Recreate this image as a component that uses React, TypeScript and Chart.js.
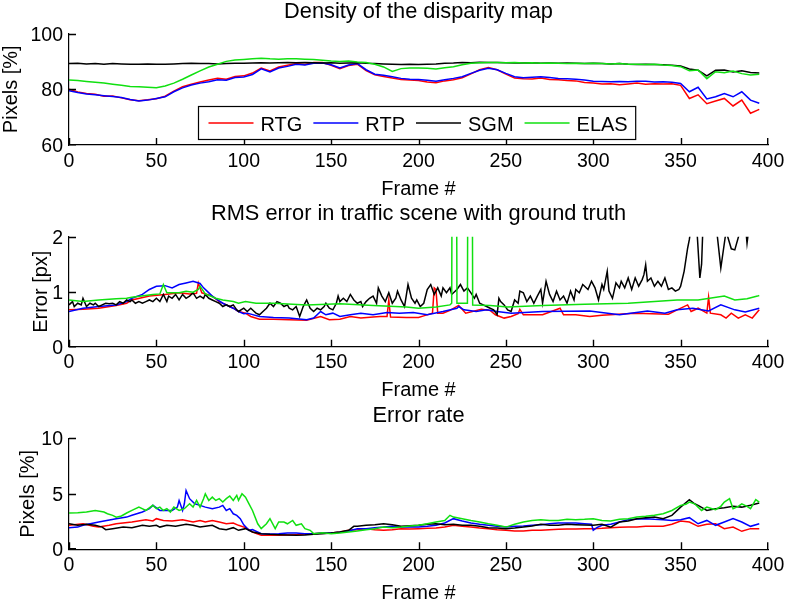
import React, { useEffect, useRef } from 'react';
import { Chart, registerables } from 'chart.js';
Chart.register(...registerables);

const FONT = "'Liberation Sans', Arial, Helvetica, sans-serif";
const SERIES_NAMES = ['RTG', 'RTP', 'SGM', 'ELAS'];
const SERIES_COLORS = ['#ff0000', '#0000ff', '#000000', '#10e010'];

// ---------- Panel 1: Density of the disparity map ----------
const densFrames = [0,5,10,15,20,25,30,35,40,45,50,55,60,65,70,75,80,85,90,95,100,105,110,115,120,125,130,135,140,145,150,155,160,165,170,175,180,185,190,195,200,205,210,215,220,225,230,235,240,245,250,255,260,265,270,275,280,285,290,295,300,305,310,315,320,325,330,335,340,345,350,355,360,365,370,375,380,385,390,395];
const densRTG = [80.0,79.0,78.5,78.2,77.5,77.6,76.9,76.2,75.9,76.2,76.6,77.5,79.3,80.9,81.8,82.6,83.3,83.9,83.6,84.6,84.8,85.8,87.6,86.6,88.0,88.6,89.2,88.9,89.6,89.6,88.6,87.4,88.5,89.0,86.7,85.2,84.6,84.0,83.5,83.3,83.1,82.6,82.3,83.0,83.4,84.1,85.5,87.0,87.8,87.0,85.4,84.0,83.8,83.7,84.0,83.5,83.4,83.1,83.0,82.4,82.2,81.9,82.0,81.6,81.9,82.2,81.8,82.0,81.9,82.0,81.4,76.7,78.0,74.8,75.8,76.7,74.0,76.1,71.4,72.8];
const densRTP = [79.5,78.8,78.3,78.0,77.7,77.4,77.0,76.3,75.8,76.1,76.7,77.3,79.1,80.5,81.5,82.2,82.7,83.4,83.2,84.2,84.4,85.3,87.3,86.2,87.6,88.2,89.0,88.7,89.3,89.4,88.8,87.6,88.7,89.2,87.0,85.4,85.0,84.5,83.9,83.6,83.5,83.2,82.9,83.4,83.9,84.5,85.7,86.8,87.5,87.0,85.7,84.5,84.1,84.3,84.5,84.2,83.9,83.8,83.6,83.3,82.9,82.8,82.7,82.8,82.7,82.9,82.9,82.6,82.7,82.5,82.1,79.1,80.7,76.5,77.3,78.5,77.3,79.1,76.1,75.0];
const densSGM = [89.2,89.3,89.1,89.2,89.0,89.2,89.1,89.0,89.0,89.1,89.0,89.0,89.1,89.2,89.3,89.2,89.2,89.1,89.2,89.3,89.3,89.4,89.5,89.4,89.5,89.6,89.5,89.6,89.5,89.4,89.5,89.3,89.4,89.5,89.3,89.2,89.1,89.0,88.9,89.0,88.9,89.0,89.1,89.3,89.4,89.6,89.5,89.7,89.6,89.6,89.5,89.4,89.4,89.5,89.3,89.4,89.3,89.4,89.3,89.2,89.3,89.2,89.1,89.2,89.0,88.9,89.0,88.9,88.8,88.6,88.3,87.3,86.8,84.8,86.8,86.9,86.2,86.6,86.0,85.8];
const densELAS = [83.3,83.1,82.8,82.5,82.2,81.8,81.4,81.0,80.9,80.7,80.5,81.2,82.2,83.6,85.1,86.6,88.0,89.0,90.0,90.5,90.7,90.9,91.1,90.9,90.8,90.9,90.9,90.8,90.7,90.4,90.1,90.0,90.1,89.8,89.6,89.0,88.0,86.4,87.4,87.6,87.6,87.5,87.3,87.7,88.1,88.8,89.3,89.5,89.6,89.6,89.5,89.6,89.4,89.5,89.3,89.4,89.3,89.2,89.3,89.2,89.3,89.2,89.1,89.2,89.0,89.0,88.9,89.0,88.7,88.5,88.1,86.6,86.9,83.8,86.3,85.9,86.5,85.6,85.1,85.4];

// ---------- Panel 2: RMS error ----------
const rmsRTGFrames = [0,8,17,27,33,36,46,55,63,69,73,74,76,82,86,90,94,97,101,104,109,117,126,136,144,149,155,161,167,174,178,182,183,184,193,200,203,208,209,210,211,214,218,223,227,236,241,244,249,253,257,258,260,271,276,281,283,290,298,305,324,343,348,354,356,360,365,366,367,373,376,379,383,387,391,395];
const rmsRTG = [0.67,0.68,0.70,0.75,0.79,0.85,0.92,0.95,0.98,0.96,0.97,1.16,0.98,0.92,0.82,0.76,0.70,0.64,0.61,0.55,0.50,0.50,0.49,0.48,0.55,0.49,0.50,0.55,0.52,0.54,0.55,0.55,0.85,0.54,0.53,0.53,0.56,0.61,1.07,1.04,0.61,0.61,0.66,0.75,0.61,0.68,0.66,0.58,0.52,0.55,0.60,0.68,0.58,0.58,0.64,0.70,0.58,0.58,0.55,0.57,0.61,0.59,0.67,0.76,0.64,0.70,0.61,0.90,0.61,0.58,0.52,0.61,0.52,0.58,0.52,0.67];
const rmsRTPFrames = [0,8,17,27,33,36,42,46,50,55,59,63,67,71,75,77,79,82,85,88,94,97,100,102,109,117,126,136,140,144,147,151,155,161,167,174,182,189,197,205,214,222,223,226,233,239,245,253,271,298,315,331,341,348,357,366,373,381,387,395];
const rmsRTP = [0.64,0.70,0.73,0.76,0.82,0.88,0.95,1.04,1.10,1.11,1.07,1.13,1.16,1.19,1.15,1.07,1.01,0.92,0.85,0.79,0.70,0.64,0.60,0.61,0.55,0.53,0.52,0.49,0.52,0.64,0.58,0.61,0.55,0.58,0.61,0.58,0.62,0.61,0.62,0.58,0.64,0.70,0.73,0.67,0.64,0.67,0.64,0.61,0.64,0.65,0.58,0.65,0.61,0.67,0.70,0.65,0.76,0.67,0.63,0.70];
const rmsSGMFrames = [0,2,3,5,7,8,10,12,14,15,17,19,21,23,25,27,29,31,33,35,36,38,40,42,44,46,48,50,52,54,56,57,59,61,63,65,67,69,71,73,75,77,78,80,82,84,86,88,90,92,94,96,97,100,102,104,106,107,109,111,113,115,117,119,121,123,125,126,128,130,132,134,136,138,140,142,144,146,147,149,151,153,154,155,157,159,161,163,165,167,168,170,172,174,176,177,179,181,183,185,187,188,190,192,194,196,198,199,201,203,205,207,209,211,213,214,216,218,219,222,224,226,228,230,232,233,235,237,239,241,243,245,246,247,249,251,253,255,257,258,260,262,264,266,268,270,271,273,275,277,279,281,283,285,287,289,290,292,294,297,299,301,303,305,306,308,309,311,313,315,316,318,320,322,324,326,328,329,330,331,333,335,337,339,341,343,345,347,349,350,352,354,355,357,359,361,362,363,365,370,373,376,379,381,384,386,388,390,391,394,395];
const rmsSGM = [0.76,0.82,0.73,0.79,0.76,0.88,0.73,0.79,0.76,0.79,0.73,0.76,0.79,0.78,0.79,0.76,0.82,0.79,0.85,0.82,0.85,0.79,0.82,0.79,0.82,0.85,0.82,0.88,0.82,0.95,0.82,0.92,0.88,0.95,0.85,0.95,0.88,0.92,0.98,0.88,0.92,0.88,0.95,0.88,0.85,0.82,0.79,0.73,0.76,0.73,0.76,0.67,0.64,0.70,0.64,0.70,0.64,0.61,0.58,0.64,0.70,0.79,0.73,0.82,0.79,0.73,0.76,0.70,0.67,0.73,0.55,0.73,0.85,0.70,0.64,0.70,0.67,0.73,0.79,0.70,0.67,0.79,0.92,0.82,0.88,0.82,0.95,0.85,0.79,0.82,0.73,0.82,0.88,0.92,0.79,1.07,0.92,0.82,0.98,0.79,0.88,1.01,0.85,0.73,1.13,0.88,0.79,0.85,0.73,0.79,1.04,1.13,0.95,1.07,0.92,1.07,0.98,1.07,0.95,1.04,1.13,1.01,1.07,0.98,0.88,0.95,0.79,0.76,0.73,0.70,0.67,0.58,0.88,0.82,0.76,0.67,0.64,0.85,0.79,1.01,0.98,0.82,0.92,0.79,0.92,1.04,0.79,1.19,0.95,0.82,1.01,0.85,0.92,0.79,1.01,0.85,1.04,0.98,1.13,1.04,1.19,1.07,0.85,1.13,1.04,1.37,1.01,0.88,1.16,1.07,1.19,1.07,1.25,1.04,1.25,1.10,1.22,1.31,1.49,1.19,1.25,1.10,1.19,1.10,1.25,1.04,1.07,1.01,1.04,1.10,1.37,1.79,1.95,2.4,2.3,1.25,1.50,2.4,2.8,2.3,1.43,2.1,1.78,1.76,2.1,2.6,1.88,2.4,2.6,2.5];
const rmsELASFrames = [0,8,17,27,33,36,48,52,54,56,63,67,71,74,75,78,84,88,94,97,101,107,117,136,155,174,193,200,210,218,219,220,221,222,228,229,230,231,241,251,271,295,320,348,360,375,381,388,394,395];
const rmsELAS = [0.85,0.82,0.85,0.87,0.88,0.90,0.95,0.96,1.13,0.98,0.98,1.01,0.99,1.04,1.10,0.96,0.88,0.85,0.82,0.79,0.82,0.79,0.79,0.76,0.78,0.75,0.72,0.70,0.72,0.76,0.79,12,12,0.79,0.79,12,12,0.76,0.75,0.72,0.75,0.77,0.79,0.85,0.85,0.92,0.85,0.87,0.92,0.93];

// ---------- Panel 3: Error rate ----------
const errRTGFrames = [0,8,14,17,23,27,36,44,48,50,54,59,65,71,75,78,82,86,90,94,97,101,105,110,115,120,125,130,135,140,145,150,155,160,165,170,175,180,185,190,195,200,205,210,215,220,225,230,235,240,245,250,255,260,265,270,275,280,285,290,295,300,305,310,315,320,325,330,335,340,345,350,355,360,365,370,375,380,385,390,395];
const errRTG = [2.16,2.30,2.07,2.00,2.16,2.30,2.46,2.67,2.55,2.76,2.60,2.55,2.67,2.46,2.60,2.46,2.60,2.46,2.30,2.37,2.16,1.95,1.56,1.26,1.26,1.26,1.29,1.32,1.35,1.41,1.47,1.47,1.56,1.71,1.77,1.86,1.77,1.71,1.77,1.86,1.83,1.86,1.89,1.92,2.00,2.16,2.07,2.00,1.92,1.86,1.77,1.71,1.65,1.65,1.71,1.71,1.77,1.80,1.83,1.83,1.86,1.86,1.89,1.95,1.98,2.00,2.00,2.07,2.07,2.07,2.25,2.55,2.46,2.07,2.25,2.30,1.86,2.00,1.62,1.86,1.86];
const errRTPFrames = [0,5,8,17,27,33,36,42,46,48,52,59,62,63,65,66,67,69,72,75,78,82,86,88,90,92,94,96,98,100,103,105,110,115,120,125,130,135,140,145,150,155,160,165,170,175,180,185,190,195,200,205,210,215,220,225,230,235,240,245,250,255,260,265,270,275,280,285,290,295,299,300,302,305,310,315,320,325,330,335,340,345,350,355,360,365,370,375,380,385,390,395];
const errRTP = [1.95,2.00,2.16,2.46,2.76,2.90,3.06,3.36,3.66,3.96,3.50,3.50,3.80,4.40,3.50,4.10,5.30,4.56,4.10,3.96,3.80,3.66,3.80,3.96,3.50,3.66,3.20,3.06,2.76,2.20,1.71,1.77,1.41,1.38,1.41,1.47,1.47,1.41,1.41,1.47,1.47,1.53,1.65,1.86,1.86,1.95,2.00,2.07,2.00,2.00,2.00,2.07,2.16,2.37,2.76,2.55,2.37,2.25,2.16,2.07,2.00,2.07,2.10,2.16,2.22,2.30,2.37,2.37,2.37,2.30,2.25,1.71,1.95,2.16,2.25,2.46,2.67,2.73,2.76,2.70,2.67,2.60,2.67,2.85,2.30,2.60,2.16,2.46,2.76,2.46,2.07,2.30];
const errSGMFrames = [0,5,10,15,19,21,25,31,36,42,46,50,52,56,61,67,71,75,78,82,86,90,94,97,101,105,110,115,120,125,130,135,140,145,150,155,160,163,165,170,175,180,185,190,195,200,205,210,215,220,225,230,235,240,245,250,255,260,265,270,275,280,285,290,295,300,305,310,315,320,325,330,335,340,345,350,355,358,360,365,370,375,380,385,390,395];
const errSGM = [2.30,2.16,2.25,2.16,2.00,1.77,1.86,2.00,1.95,2.16,2.07,2.16,2.00,2.16,2.07,2.25,2.16,2.00,2.07,2.16,1.86,1.77,1.95,1.71,1.86,1.56,1.41,1.35,1.32,1.29,1.26,1.29,1.35,1.41,1.47,1.56,1.71,2.07,2.07,2.16,2.22,2.30,2.22,2.07,2.13,2.16,2.25,2.30,2.22,2.25,2.16,2.16,2.07,1.95,1.92,1.86,1.92,2.00,2.10,2.25,2.16,2.16,2.25,2.22,2.19,2.16,2.25,2.00,2.46,2.55,2.76,2.85,2.90,2.76,3.06,3.80,4.47,4.10,3.96,3.50,3.66,3.75,3.87,3.80,3.96,4.17];
const errELASFrames = [0,5,10,15,20,22,25,27,30,33,36,40,44,48,50,52,54,56,58,60,63,66,69,71,73,75,77,78,80,82,84,86,88,90,92,94,96,97,99,101,103,105,108,110,113,115,118,120,123,125,128,130,133,135,138,140,145,150,155,160,165,170,175,180,185,190,195,200,205,210,215,218,220,225,230,235,240,245,250,255,260,265,270,275,280,285,290,295,300,305,310,315,320,325,330,335,340,345,350,353,355,358,360,362,365,368,370,373,375,378,380,383,385,388,390,393,395];
const errELAS = [3.27,3.30,3.36,3.50,3.36,3.20,3.06,2.90,3.00,3.27,3.50,3.80,3.50,3.96,3.66,3.80,3.50,3.66,3.36,3.80,3.50,3.66,4.10,3.80,4.40,3.80,4.56,5.00,4.40,4.70,4.40,4.56,4.26,4.56,4.80,4.40,4.86,4.40,5.00,4.70,4.10,3.50,2.30,1.86,2.30,2.76,1.86,2.46,2.46,2.30,2.60,2.16,2.30,1.86,1.71,1.41,1.50,1.41,1.47,1.56,1.65,1.77,1.86,2.00,1.95,2.00,2.10,2.16,2.30,2.46,2.60,3.06,2.90,2.76,2.60,2.46,2.30,2.16,2.00,2.25,2.46,2.60,2.67,2.60,2.60,2.70,2.67,2.70,2.76,2.60,2.55,2.70,2.76,2.90,2.97,3.06,3.20,3.50,3.96,4.05,4.26,4.10,3.80,3.50,3.80,3.66,3.57,3.87,4.26,4.56,3.66,3.87,4.10,3.87,3.66,4.47,4.26];

const X_MIN = 0;
const X_MAX = 400;
const X_STEP = 50;
const X_TITLE = 'Frame #';

type SeriesDef = { frames: number[]; values: number[] };
type PanelDef = {
  canvasTop: number; canvasHeight: number; areaTop: number; areaBottom: number;
  title: string; titleGap: number; yTitle: string; yTitleX: number;
  yMin: number; yMax: number; yStep: number; series: SeriesDef[]; legend: boolean;
};

const TICK_FONT = `19.5px ${FONT}`;
const LABEL_FONT = `20px ${FONT}`;
const TITLE_FONT = `21.8px ${FONT}`;

function tickValues(min: number, max: number, step: number): number[] {
  const out: number[] = [];
  for (let v = min; v <= max + 1e-9; v += step) out.push(Math.round(v * 1000) / 1000);
  return out;
}

const axisDecor = {
  id: 'axisDecor',
  afterDraw(chart: any, _args: any, opts: any) {
    const { ctx, chartArea, scales } = chart;
    const def: PanelDef = opts.def;
    const len = 7;
    const xs = scales.x;
    const ys = scales.y;
    const xTicks = tickValues(X_MIN, X_MAX, X_STEP);
    const yTicks = tickValues(def.yMin, def.yMax, def.yStep);
    const left = chartArea.left;
    const bottom = chartArea.bottom;
    ctx.save();
    // inward tick marks
    ctx.strokeStyle = '#000';
    ctx.lineWidth = 1.4;
    ctx.lineCap = 'butt';
    ctx.setLineDash([]);
    ctx.beginPath();
    xTicks.forEach((v) => {
      const px = Math.round(xs.getPixelForValue(v)) + (v === X_MAX ? -0.3 : 0.5);
      ctx.moveTo(px, bottom);
      ctx.lineTo(px, bottom - len);
    });
    yTicks.forEach((v) => {
      const py = Math.round(ys.getPixelForValue(v)) + (v === def.yMin ? -0.3 : 0.5);
      ctx.moveTo(left, py);
      ctx.lineTo(left + len, py);
    });
    ctx.stroke();
    ctx.fillStyle = '#000';
    // x tick labels
    ctx.font = TICK_FONT;
    ctx.textAlign = 'center';
    ctx.textBaseline = 'alphabetic';
    xTicks.forEach((v) => {
      ctx.fillText(String(v), xs.getPixelForValue(v), chartArea.bottom + 21.5);
    });
    // y tick labels
    ctx.textAlign = 'right';
    yTicks.forEach((v) => {
      ctx.fillText(String(v), chartArea.left - 6, ys.getPixelForValue(v) + 7);
    });
    // x title
    ctx.font = LABEL_FONT;
    ctx.textAlign = 'center';
    const cx = (chartArea.left + chartArea.right) / 2;
    ctx.fillText(X_TITLE, cx, chartArea.bottom + 49.5);
    // y title (rotated)
    ctx.save();
    ctx.translate(def.yTitleX + 5.2, (chartArea.top + chartArea.bottom) / 2);
    ctx.rotate(-Math.PI / 2);
    ctx.textAlign = 'center';
    ctx.fillText(def.yTitle, 0, 0);
    ctx.restore();
    // panel title
    ctx.font = TITLE_FONT;
    ctx.textAlign = 'center';
    ctx.fillText(def.title, cx, chartArea.top - def.titleGap);
    ctx.restore();
  },
};

const boxLegend = {
  id: 'boxLegend',
  afterDraw(chart: any) {
    const { ctx, chartArea } = chart;
    const left = Math.round(chartArea.left + 129) + 0.5;
    const top = Math.round(chartArea.top + 72) + 0.5;
    const h = 33;
    ctx.save();
    ctx.font = LABEL_FONT;
    const items = chart.data.datasets.map((d: any) => ({ label: d.label, color: d.borderColor }));
    const lineLen = 45, gapLT = 7, gapTL = 11, padL = 10, padR = 8;
    let w = padL + padR;
    items.forEach((it: any, i: number) => {
      w += lineLen + gapLT + ctx.measureText(it.label).width + (i < items.length - 1 ? gapTL : 0);
    });
    ctx.fillStyle = '#fff';
    ctx.fillRect(left, top, w, h);
    ctx.strokeStyle = '#000';
    ctx.lineWidth = 1.2;
    ctx.strokeRect(left, top, w, h);
    let x = left + padL;
    const cy = top + h / 2;
    items.forEach((it: any) => {
      ctx.strokeStyle = it.color;
      ctx.lineWidth = 1.5;
      ctx.beginPath();
      ctx.moveTo(x, cy);
      ctx.lineTo(x + lineLen, cy);
      ctx.stroke();
      x += lineLen + gapLT;
      ctx.fillStyle = '#000';
      ctx.textBaseline = 'alphabetic';
      ctx.textAlign = 'left';
      ctx.fillText(it.label, x, cy + 7.5);
      x += ctx.measureText(it.label).width + gapTL;
    });
    ctx.restore();
  },
};

function Panel({ def }: { def: PanelDef }) {
  const ref = useRef<HTMLCanvasElement | null>(null);
  useEffect(() => {
    if (!ref.current) return;
    const chart = new Chart(ref.current, {
      type: 'line',
      data: {
        datasets: def.series.map((s, i) => ({
          label: SERIES_NAMES[i],
          data: s.frames.map((f, j) => ({ x: f, y: s.values[j] })),
          borderColor: SERIES_COLORS[i],
          backgroundColor: SERIES_COLORS[i],
          borderWidth: 1.5,
          pointRadius: 0,
          fill: false,
          tension: 0,
          order: 4 - i,
        })),
      },
      options: {
        responsive: false,
        animation: false,
        devicePixelRatio: 1,
        events: [],
        layout: {
          padding: {
            left: 69,
            right: 19,
            top: def.areaTop - def.canvasTop,
            bottom: def.canvasTop + def.canvasHeight - def.areaBottom,
          },
        },
        plugins: {
          legend: { display: false },
          tooltip: { enabled: false },
          title: { display: false },
          axisDecor: { def },
        },
        scales: {
          x: {
            type: 'linear',
            min: X_MIN,
            max: X_MAX,
            ticks: { stepSize: X_STEP, display: false, autoSkip: false },
            grid: { display: false, drawTicks: false },
            border: { display: true, color: '#000', width: 1.2 },
            title: { display: false },
            afterFit: (s: any) => { s.height = 0; s.paddingLeft = 0; s.paddingRight = 0; },
          },
          y: {
            type: 'linear',
            min: def.yMin,
            max: def.yMax,
            ticks: { stepSize: def.yStep, display: false },
            grid: { display: false, drawTicks: false },
            border: { display: true, color: '#000', width: 1.2 },
            title: { display: false },
            afterFit: (s: any) => { s.width = 0; s.paddingTop = 0; s.paddingBottom = 0; },
          },
        },
      } as any,
      plugins: def.legend ? [axisDecor, boxLegend] : [axisDecor],
    });
    return () => chart.destroy();
  }, [def]);
  return (
    <canvas
      ref={ref}
      width={787}
      height={def.canvasHeight}
      style={{ position: 'absolute', left: 0, top: def.canvasTop, width: 787, height: def.canvasHeight, display: 'block' }}
    />
  );
}

const PANELS: PanelDef[] = [
  {
    canvasTop: 0, canvasHeight: 200, areaTop: 33.5, areaBottom: 145,
    title: 'Density of the disparity map', titleGap: 15.5,
    yTitle: 'Pixels [%]', yTitleX: 11.5, yMin: 60, yMax: 100, yStep: 20, legend: true,
    series: [
      { frames: densFrames, values: densRTG },
      { frames: densFrames, values: densRTP },
      { frames: densFrames, values: densSGM },
      { frames: densFrames, values: densELAS },
    ],
  },
  {
    canvasTop: 200, canvasHeight: 200, areaTop: 236.7, areaBottom: 346.7,
    title: 'RMS error in traffic scene with ground truth', titleGap: 17,
    yTitle: 'Error [px]', yTitleX: 42, yMin: 0, yMax: 2, yStep: 1, legend: false,
    series: [
      { frames: rmsRTGFrames, values: rmsRTG },
      { frames: rmsRTPFrames, values: rmsRTP },
      { frames: rmsSGMFrames, values: rmsSGM },
      { frames: rmsELASFrames, values: rmsELAS },
    ],
  },
  {
    canvasTop: 400, canvasHeight: 200, areaTop: 438.3, areaBottom: 549.3,
    title: 'Error rate', titleGap: 16.5,
    yTitle: 'Pixels [%]', yTitleX: 28.5, yMin: 0, yMax: 10, yStep: 5, legend: false,
    series: [
      { frames: errRTGFrames, values: errRTG },
      { frames: errRTPFrames, values: errRTP },
      { frames: errSGMFrames, values: errSGM },
      { frames: errELASFrames, values: errELAS },
    ],
  },
];

export default function App() {
  return (
    <div style={{ position: 'absolute', left: 0, top: 0, width: 787, height: 600, overflow: 'hidden', background: '#fff' }}>
      {PANELS.map((p, i) => (
        <Panel key={i} def={p} />
      ))}
    </div>
  );
}
